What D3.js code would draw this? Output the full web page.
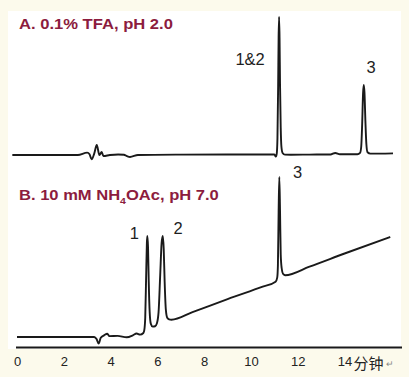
<!DOCTYPE html>
<html>
<head>
<meta charset="utf-8">
<script src="https://cdn.jsdelivr.net/npm/d3@7"></script>
<style>
  html, body { margin: 0; padding: 0; background: #fcfaec; }
  svg { display: block; }
</style>
</head>
<body>
<svg id="chart" width="409" height="377"></svg>
<script>
// ---- data (time in min, signal in arbitrary units) ----
const xTicks = [0, 2, 4, 6, 8, 10, 12, 14];
const xUnit = "分钟";

const traceA = [
  [-0.2, 0], [1.0, 0], [2.6, 0], [3.00, 1.7], [3.10, 0.5], [3.19, -3.1], [3.30, 1], [3.41, 7.2],
  [3.52, 0], [3.62, 2.2], [3.69, -0.7], [3.97, 0], [4.32, 0.4], [4.57, 0.2], [4.70, -0.8], [4.83, -1.4],
  [5.17, 0], [7.0, 0.3], [9.0, 0.4], [11.00, 0.4], [11.06, -1.2], [11.10, 1], [11.13, 12],
  [11.16, 50], [11.18, 85], [11.20, 100], [11.22, 85], [11.24, 52], [11.27, 20], [11.30, 6],
  [11.35, 1.5], [11.45, 0.3], [11.7, 0.2], [12.5, 0.3], [13.4, 0.4], [13.6, 1.5], [13.8, 0.5],
  [14.55, 0.5], [14.66, 1.5], [14.71, 6], [14.75, 22], [14.79, 45], [14.82, 50.7], [14.85, 45],
  [14.89, 24], [14.93, 8], [14.98, 2], [15.1, 1.0], [15.5, 1.0], [16.07, 1.2]
];
const peakLabelsA = [
  { t: 9.96, v: 65, text: "1&2" },
  { t: 15.13, v: 59.6, text: "3" }
];

const traceB = [
  [0.0, 0], [1.5, 0], [3.30, 0], [3.40, -1.5], [3.49, -4.8], [3.58, -0.5], [3.72, 1.2], [3.86, 2.4],
  [3.95, 0.6], [4.30, 0.8], [4.69, -0.2], [4.95, 1.2], [5.11, 2.5], [5.26, 1.7], [5.40, 2.9],
  [5.44, 5], [5.48, 14], [5.52, 45], [5.55, 68], [5.57, 73.2], [5.60, 65], [5.63, 40], [5.67, 18],
  [5.72, 9.5], [5.80, 7.5], [5.90, 7.8], [5.98, 10], [6.05, 18], [6.12, 45], [6.18, 68],
  [6.23, 73.2], [6.27, 64], [6.31, 40], [6.36, 20], [6.42, 14], [6.50, 12.8], [6.60, 12.5],
  [7.5, 18], [9.0, 27.5], [10.5, 36.5], [11.05, 40], [11.12, 43], [11.15, 52], [11.18, 90],
  [11.21, 116], [11.24, 92], [11.27, 60], [11.31, 50], [11.38, 45.5], [11.46, 44.8],
  [12.5, 51], [14.0, 60.5], [15.95, 72.5]
];
const peakLabelsB = [
  { t: 5.02, v: 71, text: "1" },
  { t: 6.88, v: 75, text: "2" },
  { t: 11.99, v: 115, text: "3" }
];

const titleA = "A. 0.1% TFA, pH 2.0";
const titleB = ["B. 10 mM NH", "4", "OAc, pH 7.0"];

// ---- drawing ----
const svg = d3.select("#chart");
svg.append("rect").attr("x", 8).attr("y", 11).attr("width", 393).attr("height", 338).attr("fill", "#ffffff");

const x = d3.scaleLinear().domain([0, 16]).range([17, 391.4]);
const yA = d3.scaleLinear().domain([0, 100]).range([155, 17]);
const yB = d3.scaleLinear().domain([0, 100]).range([337, 199]);

function drawTrace(data, y) {
  const line = d3.line().x(d => x(d[0])).y(d => y(d[1])).curve(d3.curveMonotoneX);
  svg.append("path").datum(data)
    .attr("d", line)
    .attr("fill", "none")
    .attr("stroke", "#1a1a1a")
    .attr("stroke-width", 1.9)
    .attr("stroke-linejoin", "round");
}
drawTrace(traceA, yA);
drawTrace(traceB, yB);

const font = "'Liberation Sans', Arial, sans-serif";

function drawLabels(labels, y) {
  svg.selectAll(null).data(labels).enter().append("text")
    .attr("x", d => x(d.t)).attr("y", d => y(d.v))
    .attr("text-anchor", "middle")
    .attr("font-family", font).attr("font-size", 16.5)
    .attr("fill", "#1e1e1e")
    .text(d => d.text);
}
drawLabels(peakLabelsA, yA);
drawLabels(peakLabelsB, yB);

// titles (horizontally stretched to match the reference width)
function fitWidth(sel, left, baseline, targetW) {
  const w = sel.node().getComputedTextLength();
  sel.attr("transform", `translate(${left},${baseline}) scale(${targetW / w},1)`);
}
const ta = svg.append("text").attr("x", 0).attr("y", 0)
  .attr("font-family", font).attr("font-size", 15.5).attr("font-weight", "bold")
  .attr("fill", "#8c1c3e").text(titleA);
fitWidth(ta, 19, 28.5, 154);

const tb = svg.append("text").attr("x", 0).attr("y", 0)
  .attr("font-family", font).attr("font-size", 15).attr("font-weight", "bold")
  .attr("fill", "#8c1c3e");
tb.append("tspan").text(titleB[0]);
tb.append("tspan").attr("font-size", 9.5).attr("dy", 4).text(titleB[1]);
tb.append("tspan").attr("dy", -4).text(titleB[2]);
fitWidth(tb, 19, 200, 200);

// x axis
const axis = d3.axisBottom(x).tickValues(xTicks).tickSize(0).tickPadding(9).tickFormat(d3.format("d"));
const gAxis = svg.append("g").attr("transform", "translate(0,347.5)").call(axis);
gAxis.select(".domain").remove();
gAxis.append("line").attr("x1", 16).attr("x2", 402).attr("y1", 0).attr("y2", 0)
  .attr("stroke", "#1a1a1a").attr("stroke-width", 2.2);
gAxis.selectAll(".tick text")
  .attr("font-family", font).attr("font-size", 13).attr("fill", "#222");

svg.append("text").attr("x", x(14) + 9).attr("y", 368.5)
  .attr("font-family", "'Noto Sans CJK SC', sans-serif").attr("font-size", 15)
  .attr("fill", "#222").text(xUnit);
svg.append("text").attr("x", x(14) + 41).attr("y", 367)
  .attr("font-family", font).attr("font-size", 9)
  .attr("fill", "#888").text("↵");
</script>
</body>
</html>
